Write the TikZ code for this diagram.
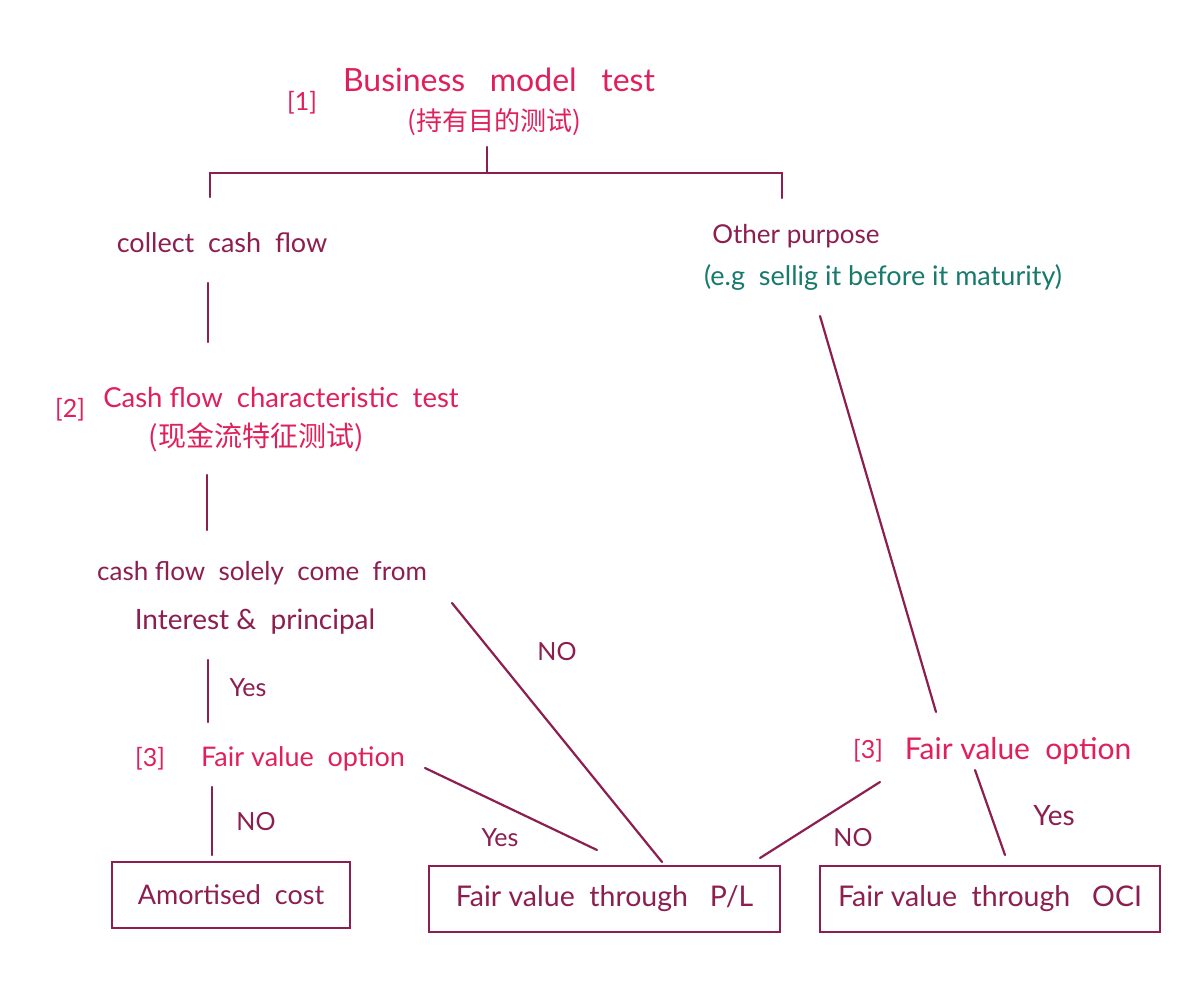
\documentclass[tikz,border=0pt]{standalone}
\usepackage{fontspec}
\setmainfont{Lato}
\newfontfamily\cjk{Noto Sans CJK SC}
\definecolor{hpink}{RGB}{224,32,92}
\definecolor{hmaroon}{RGB}{140,30,80}
\definecolor{hteal}{RGB}{24,122,108}
\begin{document}
\begin{tikzpicture}[x=1pt,y=-1pt,
  line width=2.2pt, line cap=round,
  every node/.style={inner sep=0pt,outer sep=0pt},
  head/.style={text=hpink,font=\fontsize{32}{34}\selectfont},
  sub/.style={text=hpink,font=\cjk\fontsize{26}{28}\selectfont},
  lbl/.style={text=hmaroon,font=\fontsize{26}{28}\selectfont},
  plbl/.style={text=hpink,font=\fontsize{26}{28}\selectfont},
  tag/.style={text=hpink,font=\fontsize{25}{27}\selectfont},
  ans/.style={text=hmaroon,font=\fontsize{25}{27}\selectfont},
  res/.style={draw=hmaroon,line width=2pt,text=hmaroon,font=\fontsize{27}{29}\selectfont,minimum height=66pt},
  con/.style={draw=hmaroon}]
\useasboundingbox (0,0) rectangle (1191,1000);
\fill[white] (0,0) rectangle (1191,1000);

% titles
\node[head] (bm) at (499,80) {Business\ \ \ model\ \ \ test};
\node[tag] (t1) at (302,103) {[1]};
\node[sub] (bmc) at (494,122) {(持有目的测试)};

\coordinate (c0) at (487,147);
\coordinate (c1) at (487,173);
\coordinate (cl) at (210,173);
\coordinate (cr) at (782,173);
\coordinate (cld) at (210,197);
\coordinate (crd) at (782,198);
\draw[con] (c0) -- (c1);
\draw[con] (cld) -- (cl) -- (cr) -- (crd);

\node[lbl,font=\fontsize{27}{29}\selectfont] (ccf) at (222,243) {collect\ \ cash\ \ flow};
\node[lbl] (op) at (796,236) {Other purpose};
\node[text=hteal,font=\fontsize{27}{29}\selectfont] (eg) at (883,277) {(e.g\ \ sellig it before it maturity)};

\coordinate (a1) at (208,283);
\coordinate (a2) at (208,342);
\draw[con] (a1) -- (a2);

\node[plbl,font=\fontsize{27.5}{29}\selectfont] (cft) at (281,397) {Cash flow\ \ characteristic\ \ test};
\node[tag] (t2) at (70,410) {[2]};
\node[sub,font=\cjk\fontsize{28}{30}\selectfont] (cftc) at (256,437) {(现金流特征测试)};

\coordinate (b1) at (207,475);
\coordinate (b2) at (207,530);
\draw[con] (b1) -- (b2);

\node[lbl] (s1) at (262,573) {cash flow\ \ solely\ \ come\ \ from};
\node[lbl,font=\fontsize{28}{30}\selectfont] (s2) at (255,622) {Interest \& \ principal};

\coordinate (y1) at (208,660);
\coordinate (y2) at (208,722);
\draw[con] (y1) -- (y2);
\node[ans] (yes1) at (248,688) {Yes};

\node[plbl,font=\fontsize{27}{29}\selectfont] (fvl) at (303,759) {Fair value\ \ option};
\node[tag] (t3l) at (150,759) {[3]};

\coordinate (n1) at (212,787);
\coordinate (n2) at (212,855);
\draw[con] (n1) -- (n2);
\node[ans] (no1) at (256,822) {NO};

\node[res,minimum width=238pt] (am) at (231,895) {Amortised\ \ cost};
\node[res,minimum width=351pt,font=\fontsize{28.5}{30}\selectfont] (pl) at (604.5,899) {Fair value\ \ through\ \ \ P/L};
\node[res,minimum width=340pt,font=\fontsize{28.5}{30}\selectfont] (oci) at (990,899) {Fair value\ \ through\ \ \ OCI};

% left FVO yes -> P/L
\coordinate (fy1) at (425,768);
\coordinate (fy2) at (597,850);
\draw[con] (fy1) -- (fy2);
\node[ans] (yes2) at (500,838) {Yes};

% not SPPI -> P/L
\coordinate (sn1) at (452,603);
\coordinate (sn2) at (662,862);
\draw[con] (sn1) -- (sn2);
\node[ans] (no2) at (557,652) {NO};

% other purpose -> right FVO
\coordinate (o1) at (820,316);
\coordinate (o2) at (936,712);
\draw[con] (o1) -- (o2);

\node[plbl,font=\fontsize{30}{32}\selectfont] (fvr) at (1018,751) {Fair value\ \ option};
\node[tag] (t3r) at (868,751) {[3]};

\coordinate (rn1) at (880,782);
\coordinate (rn2) at (760,858);
\draw[con] (rn1) -- (rn2);
\node[ans] (no3) at (853,838) {NO};

\coordinate (ry1) at (975,770);
\coordinate (ry2) at (1005,855);
\draw[con] (ry1) -- (ry2);
\node[ans,font=\fontsize{28}{30}\selectfont] (yes3) at (1054,816) {Yes};
\end{tikzpicture}
\end{document}
